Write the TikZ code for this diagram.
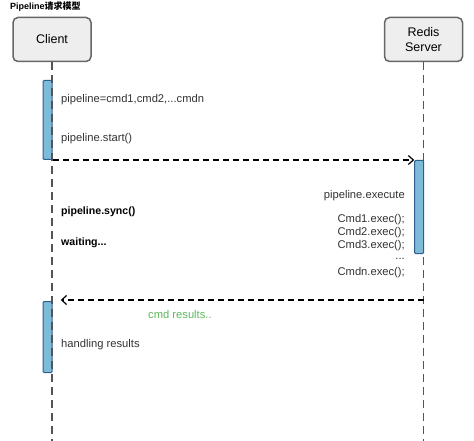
\documentclass[tikz,border=0pt]{standalone}
\usepackage{fontspec}
\setmainfont{Liberation Sans}
\newfontfamily\cjk{Noto Sans CJK SC}
\usetikzlibrary{arrows.meta}
\definecolor{boxgray}{HTML}{EEEEEE}
\definecolor{boxline}{HTML}{666666}
\definecolor{barblue}{HTML}{7DBBD8}
\definecolor{barline}{HTML}{2F5F8F}
\definecolor{lifegray}{HTML}{555555}
\definecolor{resgreen}{HTML}{5DB85D}
\definecolor{txtgray}{HTML}{333333}
\tikzset{
 actor/.style={draw=boxline,fill=boxgray,line width=1.5pt,rounded corners=5pt,minimum width=78pt,minimum height=44pt,align=center,font=\fontsize{12.5}{15}\selectfont},
 lifeline/.style={lifegray,line width=1.3pt,dash pattern=on 8pt off 5pt},
 bar/.style={draw=barline,fill=barblue,line width=1pt,rounded corners=1pt,minimum width=9pt,inner sep=0pt,anchor=north},
 msg/.style={line width=1.2pt,dash pattern=on 6pt off 4pt,-{Straight Barb[length=5pt,width=9pt]}},
 note/.style={inner sep=0pt,text=txtgray,font=\fontsize{11.2}{13}\selectfont},
 strong/.style={note,text=black,font=\bfseries\fontsize{10.6}{12}\selectfont},
}
\begin{document}
\begin{tikzpicture}[x=1pt,y=-1pt]
 \useasboundingbox (0,0) rectangle (474,441);
 \node[anchor=west,inner sep=0pt,font=\bfseries\fontsize{9}{10}\selectfont] (title) at (10,7) {Pipeline{\cjk 请求模型}};
 \node[actor] (client) at (52,39.5) {Client};
 \node[actor] (server) at (423.5,39.5) {Redis\\Server};
 % activation bars
 \node[bar,minimum height=79pt] (cbar1) at (47.7,80) {};
 \node[bar,minimum height=93pt] (sbar) at (419.2,160) {};
 \node[bar,minimum height=71pt] (cbar2) at (47.7,301) {};
 % lifelines
 \coordinate (bottom) at (0,441);
 \draw[lifeline] (client.south) -- (client.south |- bottom);
 \draw[lifeline] (server.south) -- (server.south |- bottom);
 % client side
 \node[note,anchor=west] (def) at (61,100) {pipeline=cmd1,cmd2,...cmdn};
 \node[note,anchor=west] (start) at (61,139) {pipeline.start()};
 \node[strong,anchor=west] (sync) at (61,211.5) {pipeline.sync()};
 \node[strong,anchor=west] (wait) at (61,242.5) {waiting...};
 \node[note,anchor=west] (handle) at (61,345) {handling results};
 % server side
 \node[note,anchor=east] (exec) at (405,195.5) {pipeline.execute};
 \node[note,anchor=east] (c1) at (405,220) {Cmd1.exec();};
 \node[note,anchor=east] (c2) at (405,233) {Cmd2.exec();};
 \node[note,anchor=east] (c3) at (405,246) {Cmd3.exec();};
 \node[note,anchor=east] (dots) at (405,259) {...};
 \node[note,anchor=east] (cn) at (405,273) {Cmdn.exec();};
 % messages
 \draw[msg] (cbar1.south east) -- (cbar1.south east -| sbar.west);
 \coordinate (ret) at (423.5,300);
 \draw[msg,shorten >=8pt] (ret) -- (ret -| cbar2.east);
 \node[note,anchor=west,text=resgreen] (res) at (148,314) {cmd results..};
\end{tikzpicture}
\end{document}
